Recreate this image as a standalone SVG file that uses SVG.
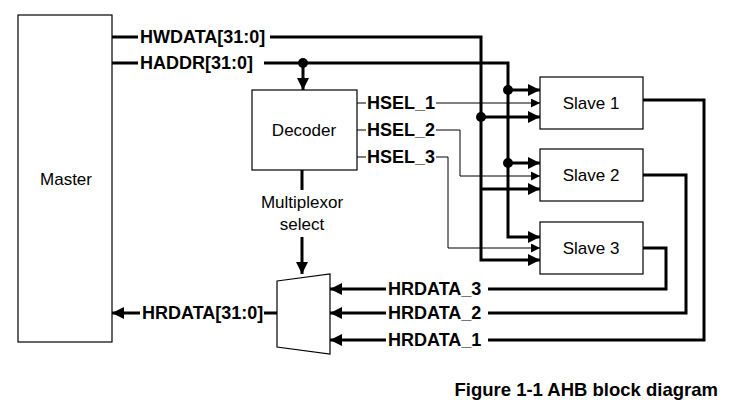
<svg xmlns="http://www.w3.org/2000/svg" width="733" height="412" viewBox="0 0 733 412">
<defs>
<marker id="a" viewBox="0 0 10 10" refX="10" refY="5" markerWidth="11" markerHeight="9" markerUnits="userSpaceOnUse" orient="auto"><path d="M0,0L10,5L0,10z" fill="#000"/></marker>
<marker id="b" viewBox="0 0 10 10" refX="10" refY="5" markerWidth="14" markerHeight="12" markerUnits="userSpaceOnUse" orient="auto"><path d="M0,0L10,5L0,10z" fill="#000"/></marker>
<style>
.box{fill:#fff;stroke:#000;stroke-width:1.2}
.t{font-family:"Liberation Sans",Arial,sans-serif;font-size:17px}
.b{font-family:"Liberation Sans",Arial,sans-serif;font-size:18px;font-weight:bold}
.k{fill:none;stroke:#000;stroke-width:3}
.n{fill:none;stroke:#000;stroke-width:1}
</style>
</defs>
<rect width="733" height="412" fill="#fff"/>
<g id="master"><rect class="box" x="18" y="15" width="94" height="327"/><text class="t" x="66" y="185" text-anchor="middle">Master</text></g>
<g id="decoder"><rect class="box" x="252" y="90" width="105" height="80"/><text class="t" x="304" y="136" text-anchor="middle">Decoder</text></g>
<g id="slave1"><rect class="box" x="540" y="77" width="103" height="52"/><text class="t" x="591" y="109" text-anchor="middle">Slave 1</text></g>
<g id="slave2"><rect class="box" x="540" y="149" width="103" height="52"/><text class="t" x="591" y="181" text-anchor="middle">Slave 2</text></g>
<g id="slave3"><rect class="box" x="540" y="222" width="103" height="52"/><text class="t" x="591" y="254" text-anchor="middle">Slave 3</text></g>
<g id="mux"><path class="box" d="M277,281L330,274L330,354L277,347z"/></g>
<g id="connectors">
<path class="k" d="M112,37H138M270,37H481V260H540" marker-end="url(#b)"/>
<path class="k" d="M481,117H540" marker-end="url(#b)"/>
<path class="k" d="M481,189H540" marker-end="url(#b)"/>
<path class="k" d="M112,63H138M264,63H508V237H540" marker-end="url(#b)"/>
<path class="k" d="M508,90H540" marker-end="url(#b)"/>
<path class="k" d="M508,163H540" marker-end="url(#b)"/>
<path class="k" d="M303,63V90" marker-end="url(#b)"/>
<circle cx="303" cy="63" r="5"/><circle cx="508" cy="90" r="5"/><circle cx="481" cy="117" r="5"/><circle cx="508" cy="163" r="5"/>
<path class="n" d="M357,103H366M357,130H366M357,157H366"/>
<path class="n" d="M436,103H540" marker-end="url(#a)"/>
<path class="n" d="M436,130H460V176H540" marker-end="url(#a)"/>
<path class="n" d="M436,157H448V248H540" marker-end="url(#a)"/>
<path class="k" d="M302,170V190"/>
<path class="k" d="M302,237V274" marker-end="url(#b)"/>
<path class="k" d="M643,248H666V289H488M386,289H330" marker-end="url(#b)"/>
<path class="k" d="M643,175H686V313H488M386,313H330" marker-end="url(#b)"/>
<path class="k" d="M643,100H704V340H488M386,340H330" marker-end="url(#b)"/>
<path class="k" d="M277,313H264M140,313H112" marker-end="url(#b)"/>
</g>
<g id="labels">
<text class="b" x="140" y="43">HWDATA[31:0]</text>
<text class="b" x="140" y="69">HADDR[31:0]</text>
<text class="b" x="367" y="109">HSEL_1</text>
<text class="b" x="367" y="136">HSEL_2</text>
<text class="b" x="367" y="163">HSEL_3</text>
<text class="t" x="302" y="208" text-anchor="middle">Multiplexor</text>
<text class="t" x="302" y="230" text-anchor="middle">select</text>
<text class="b" x="388" y="295">HRDATA_3</text>
<text class="b" x="388" y="319">HRDATA_2</text>
<text class="b" x="388" y="346">HRDATA_1</text>
<text class="b" x="142" y="319">HRDATA[31:0]</text>
<text class="b" x="718" y="396" text-anchor="end" style="font-size:18.5px">Figure 1-1 AHB block diagram</text>
</g>
</svg>
